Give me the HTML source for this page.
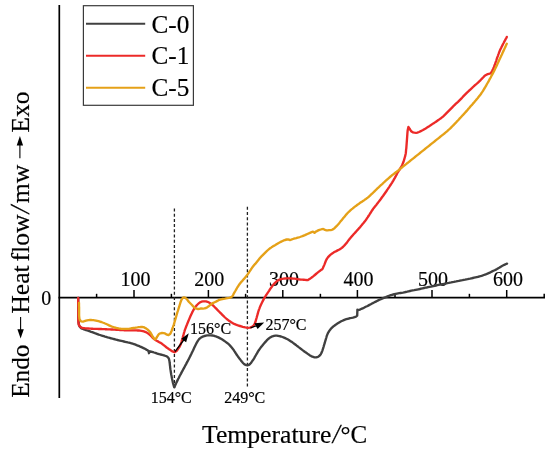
<!DOCTYPE html>
<html>
<head>
<meta charset="utf-8">
<title>DSC curves</title>
<style>
html,body{margin:0;padding:0;background:#fff;}
body{width:550px;height:454px;overflow:hidden;}
svg{display:block;}
text{font-family:"Liberation Serif","Times New Roman",serif;fill:#000;stroke:#000;stroke-width:0.18px;}
.tick{font-size:20px;text-anchor:middle;}
.big{font-size:25.7px;}
.ann{font-size:16px;}
.curve{fill:none;stroke-width:2.35;stroke-linejoin:round;stroke-linecap:round;}
</style>
</head>
<body>
<svg width="550" height="454" viewBox="0 0 550 454">
<rect x="0" y="0" width="550" height="454" fill="#ffffff"/>

<!-- axes -->
<g stroke="#000" fill="none">
<line x1="59.3" y1="5" x2="59.3" y2="398" stroke-width="1.7"/>
<line x1="58.5" y1="297.7" x2="545" y2="297.7" stroke-width="1.8"/>
<g stroke-width="1.5">
<line x1="134" y1="297.7" x2="134" y2="290"/>
<line x1="208.4" y1="297.7" x2="208.4" y2="290"/>
<line x1="282.8" y1="297.7" x2="282.8" y2="290"/>
<line x1="357.4" y1="297.7" x2="357.4" y2="290"/>
<line x1="432" y1="297.7" x2="432" y2="290"/>
<line x1="506.7" y1="297.7" x2="506.7" y2="290"/>
<line x1="96.6" y1="297.7" x2="96.6" y2="293.8"/>
<line x1="171.4" y1="297.7" x2="171.4" y2="293.8"/>
<line x1="245.6" y1="297.7" x2="245.6" y2="293.8"/>
<line x1="320.4" y1="297.7" x2="320.4" y2="293.8"/>
<line x1="395" y1="297.7" x2="395" y2="293.8"/>
<line x1="469.4" y1="297.7" x2="469.4" y2="293.8"/>
<line x1="544.2" y1="297.7" x2="544.2" y2="293.8"/>
</g>
</g>

<!-- tick labels -->
<text class="tick" x="135.6" y="285.8">100</text>
<text class="tick" x="209.3" y="285.8">200</text>
<text class="tick" x="283.9" y="285.8">300</text>
<text class="tick" x="358.6" y="285.8">400</text>
<text class="tick" x="433.1" y="285.8">500</text>
<text class="tick" x="508" y="285.8">600</text>
<text class="tick" x="46.3" y="304.7">0</text>

<!-- dashed guide lines -->
<g stroke="#222" stroke-width="1.3" stroke-dasharray="3 2.2" fill="none">
<line x1="174.4" y1="208.5" x2="174.4" y2="388"/>
<line x1="247.4" y1="206.8" x2="247.4" y2="387.5"/>
</g>

<!-- curves -->
<path class="curve" stroke="#404040" d="M78.2 298.0 L78.2 298.7 L78.2 299.7 L78.2 300.8 L78.2 302.0 L78.2 303.4 L78.3 304.8 L78.3 306.2 L78.3 307.5 L78.3 308.8 L78.3 310.0 L78.3 311.4 L78.3 312.8 L78.3 314.1 L78.3 315.4 L78.3 316.7 L78.3 317.9 L78.4 319.0 L78.4 320.0 L78.5 321.7 L78.6 323.0 L78.8 324.0 L79.0 325.0 L79.6 326.5 L80.5 327.5 L81.4 328.3 L83.0 329.0 L83.9 329.3 L84.9 329.7 L86.0 330.1 L87.3 330.5 L88.6 330.9 L90.0 331.4 L91.1 331.8 L92.3 332.2 L93.5 332.7 L94.8 333.2 L96.1 333.6 L97.4 334.1 L98.7 334.6 L100.0 335.0 L101.2 335.4 L102.5 335.8 L103.8 336.2 L105.0 336.6 L106.2 336.9 L107.5 337.3 L108.8 337.6 L110.0 338.0 L111.2 338.3 L112.5 338.7 L113.8 339.0 L115.0 339.3 L116.2 339.7 L117.5 340.0 L118.8 340.3 L120.0 340.6 L121.3 340.9 L122.6 341.2 L123.9 341.5 L125.2 341.8 L126.5 342.1 L127.8 342.4 L128.9 342.6 L130.0 342.9 L131.5 343.3 L132.7 343.7 L133.8 344.0 L134.9 344.4 L136.0 344.8 L137.2 345.3 L138.5 345.8 L139.7 346.4 L140.9 346.9 L142.0 347.4 L143.5 348.1 L144.9 348.8 L146.0 349.4 L147.5 350.3 L148.5 351.0 L149.0 353.2 L149.6 351.4 L150.4 351.5 L152.0 351.8 L153.0 352.1 L154.1 352.5 L155.4 352.9 L156.7 353.4 L158.0 353.8 L159.3 354.2 L160.7 354.5 L162.0 354.8 L163.3 355.2 L164.4 355.5 L165.8 356.0 L166.8 356.4 L167.7 357.1 L168.4 357.9 L168.9 358.8 L169.3 360.4 L169.5 361.4 L169.6 362.5 L169.8 363.7 L169.9 365.1 L170.1 366.4 L170.2 367.8 L170.4 369.2 L170.6 370.4 L170.8 371.7 L171.0 373.0 L171.2 374.4 L171.5 375.7 L171.7 376.9 L171.9 378.1 L172.1 379.1 L172.5 380.8 L172.8 382.2 L173.1 383.4 L173.4 384.5 L173.9 386.3 L174.3 387.4 L174.7 386.6 L175.2 385.4 L175.8 384.0 L176.5 382.4 L177.0 381.4 L177.5 380.4 L178.0 379.3 L178.6 378.2 L179.2 377.0 L179.8 375.8 L180.4 374.7 L181.0 373.6 L181.6 372.4 L182.3 371.2 L182.9 370.0 L183.5 368.9 L184.2 367.7 L184.8 366.5 L185.4 365.3 L186.1 364.1 L186.7 362.9 L187.4 361.7 L188.0 360.5 L188.6 359.4 L189.2 358.2 L189.8 357.0 L190.4 355.9 L190.9 354.7 L191.5 353.6 L192.0 352.5 L192.5 351.5 L193.0 350.5 L193.6 349.2 L194.1 348.1 L194.6 347.0 L195.1 346.0 L195.6 345.0 L196.2 343.8 L196.8 342.6 L197.4 341.6 L198.0 340.6 L198.9 339.4 L199.9 338.4 L201.0 337.6 L202.1 336.9 L203.4 336.4 L204.6 336.0 L205.9 335.7 L207.2 335.4 L208.5 335.3 L209.7 335.3 L211.0 335.3 L212.3 335.5 L213.4 335.7 L214.6 336.0 L215.9 336.4 L217.0 336.8 L218.4 337.4 L219.7 338.1 L221.0 338.8 L222.3 339.6 L223.7 340.5 L225.0 341.4 L226.0 342.1 L226.9 342.8 L227.9 343.5 L228.9 344.4 L229.7 345.2 L230.5 346.1 L231.3 347.0 L232.1 348.0 L232.9 349.0 L233.6 349.9 L234.2 350.9 L234.9 351.9 L235.6 353.0 L236.2 354.0 L236.9 355.0 L237.7 356.1 L238.5 357.3 L239.4 358.4 L240.2 359.4 L240.9 360.4 L242.0 361.8 L243.0 363.0 L244.0 364.0 L245.1 364.7 L246.3 365.2 L247.4 365.4 L248.7 365.0 L250.0 364.0 L250.7 363.2 L251.5 362.2 L252.2 361.1 L253.0 360.0 L253.8 358.8 L254.5 357.6 L255.2 356.3 L256.0 355.0 L256.8 353.7 L257.5 352.4 L258.2 351.2 L259.0 350.0 L259.8 348.9 L260.5 347.9 L261.2 346.9 L262.0 346.0 L263.0 344.7 L264.0 343.5 L265.0 342.4 L265.9 341.4 L266.7 340.4 L267.5 339.6 L268.8 338.5 L270.0 337.6 L271.2 336.9 L272.5 336.3 L274.0 335.9 L275.5 335.6 L276.8 335.6 L278.0 335.8 L279.5 336.1 L281.0 336.5 L282.5 337.0 L284.0 337.6 L285.2 338.1 L286.4 338.7 L287.6 339.3 L288.8 340.0 L289.9 340.7 L291.0 341.4 L292.1 342.1 L293.1 342.9 L294.2 343.7 L295.3 344.5 L296.4 345.4 L297.5 346.2 L298.6 347.1 L299.7 347.9 L300.8 348.8 L301.9 349.6 L302.9 350.4 L304.0 351.2 L305.1 352.0 L306.3 352.8 L307.4 353.6 L308.8 354.6 L310.0 355.4 L311.2 356.1 L312.4 356.7 L314.5 357.3 L316.2 357.4 L318.0 356.9 L319.5 355.8 L320.3 354.9 L321.0 353.8 L321.7 352.4 L322.3 350.8 L322.7 349.6 L323.2 348.2 L323.6 346.8 L323.9 345.6 L324.3 344.4 L324.7 343.2 L325.0 342.0 L325.4 340.6 L325.8 339.3 L326.2 338.0 L326.7 336.2 L327.3 334.6 L327.9 333.2 L328.6 332.0 L329.3 330.9 L330.0 329.9 L330.9 328.8 L332.0 327.6 L332.9 326.8 L333.8 326.1 L335.0 325.2 L336.1 324.4 L337.4 323.6 L338.7 322.8 L340.0 322.0 L341.2 321.3 L342.5 320.7 L343.8 320.1 L345.0 319.6 L346.3 319.2 L347.6 318.8 L348.9 318.5 L350.0 318.2 L351.6 317.9 L353.0 317.6 L354.6 317.1 L356.0 316.6 L357.2 315.6 L357.4 309.6 L358.0 310.2 L359.0 309.9 L360.5 309.3 L362.0 308.6 L363.2 308.1 L364.4 307.5 L365.7 306.8 L367.0 306.2 L368.2 305.6 L369.5 304.9 L370.8 304.3 L372.0 303.6 L373.2 302.9 L374.5 302.3 L375.8 301.6 L377.0 301.0 L378.2 300.4 L379.5 299.8 L380.8 299.2 L382.0 298.6 L383.2 298.1 L384.5 297.6 L385.8 297.1 L387.0 296.6 L388.2 296.1 L389.5 295.7 L390.8 295.2 L392.0 294.8 L393.2 294.5 L394.4 294.2 L395.7 293.9 L397.0 293.6 L398.1 293.4 L399.3 293.2 L400.5 293.0 L401.7 292.8 L403.0 292.6 L404.3 292.3 L405.7 292.0 L407.2 291.7 L408.6 291.3 L410.0 291.0 L411.4 290.7 L412.8 290.4 L414.2 290.2 L415.6 289.9 L417.0 289.6 L418.4 289.3 L419.8 289.0 L421.2 288.6 L422.6 288.3 L424.0 288.0 L425.4 287.7 L426.7 287.5 L428.1 287.2 L429.5 286.9 L431.0 286.6 L432.2 286.3 L433.4 286.1 L434.7 285.8 L436.0 285.5 L437.3 285.2 L438.6 284.9 L440.0 284.6 L441.2 284.4 L442.4 284.1 L443.7 283.9 L444.9 283.6 L446.2 283.4 L447.5 283.1 L448.7 282.9 L450.0 282.6 L451.2 282.4 L452.5 282.1 L453.8 281.9 L455.0 281.6 L456.2 281.4 L457.5 281.1 L458.8 280.9 L460.0 280.6 L461.3 280.3 L462.5 280.1 L463.8 279.8 L465.1 279.6 L466.4 279.3 L467.6 279.1 L468.8 278.8 L470.0 278.6 L471.5 278.3 L472.9 278.0 L474.2 277.7 L475.5 277.4 L476.7 277.1 L478.0 276.8 L479.2 276.5 L480.4 276.1 L481.6 275.8 L482.8 275.4 L483.9 275.0 L485.0 274.6 L486.3 274.1 L487.5 273.6 L488.6 273.1 L489.8 272.6 L491.0 272.0 L492.2 271.4 L493.4 270.8 L494.7 270.2 L495.9 269.6 L497.0 269.0 L498.3 268.2 L499.6 267.5 L500.8 266.7 L502.0 266.0 L503.4 265.3 L504.8 264.6 L506.1 264.0 L507.0 263.6"/>
<path class="curve" stroke="#ec2a28" d="M78.2 298.0 L78.2 298.7 L78.2 299.6 L78.2 300.7 L78.2 301.9 L78.2 303.2 L78.3 304.6 L78.3 306.0 L78.3 307.4 L78.3 308.7 L78.3 310.0 L78.3 311.2 L78.3 312.5 L78.3 313.9 L78.3 315.2 L78.3 316.5 L78.3 317.8 L78.3 319.0 L78.3 320.1 L78.4 321.1 L78.4 322.0 L78.7 324.4 L79.2 325.5 L80.5 327.0 L81.4 327.6 L83.0 328.0 L84.1 328.1 L85.3 328.3 L86.8 328.4 L88.3 328.5 L90.0 328.6 L91.1 328.7 L92.3 328.7 L93.5 328.8 L94.8 328.8 L96.1 328.9 L97.4 328.9 L98.7 329.0 L100.0 329.0 L101.2 329.0 L102.5 329.1 L103.8 329.1 L105.0 329.2 L106.2 329.2 L107.5 329.3 L108.8 329.3 L110.0 329.4 L111.2 329.5 L112.5 329.5 L113.8 329.6 L115.0 329.7 L116.2 329.8 L117.5 329.9 L118.8 329.9 L120.0 330.0 L121.2 330.1 L122.5 330.1 L123.8 330.2 L125.0 330.2 L126.2 330.3 L127.5 330.3 L128.8 330.4 L130.0 330.4 L131.3 330.4 L132.6 330.4 L133.9 330.4 L135.2 330.4 L136.5 330.4 L137.8 330.5 L138.9 330.5 L140.0 330.6 L141.5 330.8 L142.8 331.1 L143.9 331.4 L145.0 331.8 L146.0 332.2 L147.1 332.8 L148.1 333.4 L149.0 334.2 L150.0 335.0 L151.0 336.0 L152.0 337.0 L153.0 338.1 L154.0 339.0 L155.3 339.9 L156.7 340.7 L158.0 341.4 L159.3 342.2 L160.7 342.9 L162.0 343.8 L163.0 344.6 L164.0 345.4 L165.0 346.2 L166.0 347.0 L167.0 347.8 L168.1 348.5 L169.1 349.2 L170.0 349.8 L171.4 350.7 L172.5 351.4 L174.5 352.3 L176.5 351.0 L177.4 349.9 L178.3 348.5 L179.0 347.5 L179.7 346.5 L180.4 345.0 L180.8 344.1 L181.1 343.0 L181.5 341.8 L181.8 340.6 L182.2 339.3 L182.6 338.0 L182.9 336.9 L183.3 335.7 L183.6 334.5 L183.9 333.2 L184.3 332.0 L184.6 330.8 L185.0 329.6 L185.5 328.3 L186.0 327.0 L186.5 325.7 L187.0 324.5 L187.5 323.2 L188.0 322.0 L188.5 320.8 L189.0 319.6 L189.5 318.4 L190.0 317.2 L190.5 316.1 L191.0 315.0 L191.6 313.7 L192.2 312.4 L192.8 311.2 L193.4 310.1 L194.0 309.0 L194.8 307.8 L195.5 306.8 L196.2 305.9 L197.0 305.0 L198.0 304.0 L199.0 303.1 L200.0 302.4 L201.5 301.7 L203.0 301.4 L204.5 301.3 L206.0 301.4 L207.5 301.8 L209.0 302.5 L210.1 303.2 L211.3 304.0 L212.4 304.9 L213.5 305.9 L214.6 307.0 L215.7 308.1 L216.8 309.2 L217.9 310.4 L219.0 311.5 L220.1 312.6 L221.2 313.7 L222.3 314.8 L223.4 315.9 L224.5 317.0 L225.6 318.0 L226.7 319.0 L227.9 319.9 L229.0 320.8 L230.2 321.6 L231.3 322.3 L232.5 323.0 L233.6 323.6 L234.8 324.2 L236.0 324.7 L237.3 325.2 L238.6 325.6 L240.0 326.0 L241.3 326.4 L242.7 326.8 L244.0 327.1 L245.3 327.4 L246.6 327.6 L247.7 327.8 L250.0 327.7 L252.0 326.9 L252.9 326.2 L253.8 325.2 L254.5 324.0 L255.2 322.6 L255.6 321.4 L255.9 320.1 L256.3 318.8 L256.7 317.5 L257.0 316.3 L257.4 315.0 L257.8 313.7 L258.1 312.3 L258.5 311.0 L258.9 309.8 L259.4 308.6 L259.8 307.4 L260.5 305.8 L261.2 304.2 L261.8 303.0 L262.4 301.8 L263.0 300.6 L263.6 299.4 L264.3 298.2 L265.0 297.0 L265.6 296.0 L266.3 294.9 L267.2 293.6 L267.8 292.7 L268.5 291.7 L269.2 290.6 L269.9 289.4 L270.7 288.3 L271.4 287.3 L272.2 286.2 L273.1 285.1 L273.9 284.1 L274.8 283.1 L275.6 282.3 L276.6 281.4 L277.5 280.7 L278.5 280.1 L279.6 279.6 L280.9 279.2 L282.3 278.9 L283.7 278.7 L285.1 278.5 L286.5 278.4 L287.8 278.4 L289.1 278.4 L290.5 278.4 L291.9 278.5 L293.3 278.6 L294.6 278.7 L296.0 278.9 L297.4 279.1 L298.8 279.3 L300.2 279.5 L301.4 279.6 L302.8 279.7 L303.9 279.7 L305.0 279.8 L306.6 280.0 L307.9 280.1 L309.9 278.8 L310.9 278.1 L312.0 277.3 L313.2 276.4 L314.2 275.5 L315.4 274.5 L316.6 273.5 L317.6 272.6 L318.9 271.6 L320.0 270.8 L320.9 270.1 L322.3 269.2 L322.8 268.3 L323.3 267.1 L323.9 265.8 L324.4 264.6 L324.9 263.3 L325.4 262.0 L325.9 260.8 L326.5 259.5 L327.2 258.4 L327.9 257.4 L328.8 256.4 L329.8 255.4 L330.9 254.4 L332.2 253.5 L333.5 252.6 L334.9 251.8 L336.3 251.1 L337.6 250.4 L338.9 249.8 L339.9 249.2 L340.9 248.6 L341.9 247.8 L342.8 247.0 L343.9 246.0 L344.9 244.9 L345.9 243.8 L346.7 242.9 L347.4 241.9 L348.1 240.9 L348.8 239.9 L349.6 238.9 L350.4 238.0 L351.2 237.0 L352.0 236.1 L352.8 235.2 L353.6 234.3 L354.6 233.2 L355.6 232.1 L356.6 231.0 L357.6 229.9 L358.4 229.0 L359.2 228.1 L360.0 227.2 L360.8 226.2 L361.6 225.3 L362.4 224.3 L363.3 223.3 L364.1 222.3 L364.9 221.3 L365.6 220.3 L366.4 219.2 L367.1 218.1 L367.8 217.1 L368.5 216.0 L369.3 214.8 L370.1 213.5 L370.9 212.3 L371.6 211.2 L372.4 210.0 L373.1 208.9 L373.8 208.0 L374.6 207.0 L375.8 205.6 L376.5 204.7 L377.2 203.7 L378.1 202.6 L379.0 201.4 L379.9 200.2 L380.8 199.0 L381.5 198.0 L382.2 197.0 L383.0 196.0 L383.7 195.0 L384.4 194.0 L385.1 193.0 L385.8 192.0 L386.5 191.0 L387.2 189.9 L387.9 188.9 L388.6 187.8 L389.3 186.8 L389.9 185.9 L390.5 185.0 L391.4 183.7 L392.1 182.6 L392.7 181.5 L393.3 180.6 L394.1 179.2 L395.0 177.6 L395.5 176.6 L396.2 175.4 L396.8 174.2 L397.4 173.0 L398.0 172.0 L398.7 170.9 L399.3 170.1 L400.0 169.0 L400.5 168.0 L401.2 166.9 L401.8 165.7 L402.4 164.4 L403.0 163.0 L403.5 161.8 L403.9 160.5 L404.3 159.1 L404.7 157.7 L405.1 156.4 L405.4 155.0 L405.7 153.7 L405.9 152.3 L406.0 151.0 L406.1 149.7 L406.3 148.3 L406.4 147.0 L406.5 145.7 L406.6 144.3 L406.7 143.0 L406.8 141.7 L406.9 140.3 L407.0 139.0 L407.1 137.6 L407.2 136.2 L407.3 134.8 L407.4 133.4 L407.5 132.1 L407.6 131.0 L407.9 129.2 L408.2 127.9 L408.4 127.0 L409.6 128.6 L410.3 129.8 L411.0 131.0 L411.9 131.8 L413.0 132.4 L414.4 132.7 L416.0 132.8 L417.4 132.6 L419.0 132.0 L420.3 131.4 L421.6 130.7 L423.0 130.0 L424.3 129.2 L425.7 128.4 L427.0 127.6 L428.3 126.7 L429.7 125.9 L431.0 125.0 L432.3 124.1 L433.7 123.3 L435.0 122.4 L436.0 121.7 L437.0 121.0 L438.0 120.3 L439.0 119.6 L440.0 118.9 L441.0 118.2 L442.0 117.4 L443.0 116.6 L444.0 115.7 L445.0 114.7 L446.0 113.6 L447.0 112.6 L448.0 111.6 L449.0 110.6 L450.0 109.6 L451.0 108.6 L452.0 107.6 L452.9 106.6 L453.9 105.7 L455.0 104.6 L455.9 103.7 L456.9 102.8 L458.0 101.8 L459.0 100.8 L460.0 99.8 L461.0 98.8 L462.0 97.8 L463.0 96.7 L464.0 95.7 L465.0 94.7 L466.0 93.7 L467.0 92.7 L468.1 91.7 L469.1 90.7 L470.0 89.8 L471.1 88.8 L472.1 87.9 L473.0 87.0 L474.0 86.1 L475.0 85.2 L476.0 84.4 L477.0 83.5 L478.0 82.6 L479.0 81.6 L480.1 80.6 L481.1 79.5 L482.0 78.6 L483.1 77.5 L484.1 76.4 L485.0 75.6 L487.0 74.4 L488.6 73.9 L490.0 73.6 L490.9 73.0 L491.5 72.0 L492.3 70.6 L493.1 69.0 L493.5 68.0 L494.0 66.9 L494.4 65.7 L494.9 64.5 L495.3 63.3 L495.7 62.1 L496.2 60.8 L496.6 59.5 L497.0 58.2 L497.5 56.9 L497.9 55.8 L498.3 54.6 L498.8 53.4 L499.2 52.2 L499.7 51.0 L500.2 49.8 L500.7 48.7 L501.3 47.6 L501.8 46.5 L502.4 45.4 L502.9 44.3 L503.5 43.2 L504.2 41.8 L505.0 40.4 L505.7 39.0 L506.4 37.8 L506.8 36.9"/>
<path class="curve" stroke="#e5a118" d="M79.0 302.8 L79.0 303.6 L79.0 304.7 L79.0 306.0 L79.1 307.4 L79.1 308.8 L79.1 310.0 L79.1 311.4 L79.1 312.8 L79.1 314.2 L79.1 315.4 L79.2 316.5 L79.4 318.5 L79.8 319.8 L81.0 321.3 L83.0 321.6 L84.4 321.2 L86.0 320.7 L87.2 320.4 L88.5 320.1 L90.0 320.0 L91.0 320.0 L92.2 320.1 L93.4 320.2 L94.6 320.3 L96.0 320.6 L97.2 320.9 L98.5 321.2 L99.9 321.6 L101.3 322.0 L102.6 322.5 L104.0 323.0 L105.1 323.5 L106.3 324.0 L107.4 324.5 L108.6 325.1 L109.7 325.7 L110.9 326.2 L112.0 326.6 L113.3 327.0 L114.7 327.5 L116.0 327.8 L117.3 328.1 L118.7 328.4 L120.0 328.6 L121.3 328.8 L122.7 328.9 L124.0 328.9 L125.3 328.9 L126.7 328.9 L128.0 328.8 L129.4 328.7 L130.7 328.5 L132.1 328.2 L133.5 328.0 L134.8 327.8 L136.0 327.6 L137.4 327.4 L138.6 327.2 L139.8 327.1 L141.0 327.0 L142.0 327.0 L143.5 327.2 L144.7 327.7 L146.0 328.4 L147.0 329.1 L148.1 330.0 L149.1 330.9 L150.0 332.0 L150.8 333.2 L151.6 334.6 L152.3 335.9 L153.0 337.0 L154.1 338.7 L155.0 339.4 L156.0 338.5 L157.0 337.0 L157.6 336.0 L158.3 334.9 L159.0 334.0 L160.4 333.3 L162.0 333.0 L163.6 333.1 L165.0 333.4 L167.0 334.7 L168.5 335.1 L170.0 334.0 L170.6 333.2 L171.2 331.8 L171.6 330.9 L172.0 329.7 L172.4 328.5 L172.9 327.2 L173.3 326.0 L173.8 324.6 L174.2 323.2 L174.6 321.9 L175.0 320.5 L175.4 319.1 L175.8 317.8 L176.2 316.4 L176.6 315.0 L177.0 313.6 L177.4 312.2 L177.9 310.9 L178.3 309.5 L178.7 308.1 L179.2 306.7 L179.6 305.3 L180.0 304.0 L180.5 302.4 L181.0 300.9 L181.6 299.6 L182.5 298.2 L183.5 297.4 L184.7 297.5 L186.0 298.4 L187.0 299.4 L188.0 300.7 L189.0 302.0 L190.0 303.0 L191.0 304.0 L192.0 305.0 L193.0 306.1 L194.0 307.1 L195.0 308.0 L196.5 308.7 L198.0 309.0 L199.6 308.8 L201.0 308.4 L203.0 308.6 L204.4 308.4 L206.0 308.0 L207.0 307.5 L208.0 306.7 L209.0 306.0 L210.0 305.2 L210.9 304.4 L212.0 303.6 L213.3 302.9 L214.6 302.3 L216.0 301.6 L217.3 300.9 L218.5 300.2 L220.0 299.6 L221.1 299.3 L222.4 299.0 L223.6 298.8 L224.9 298.6 L226.0 298.4 L227.5 298.1 L228.9 297.9 L230.0 297.6 L231.3 297.1 L232.3 296.4 L233.1 295.1 L233.8 293.6 L234.5 292.3 L235.3 291.0 L236.1 289.6 L237.0 288.0 L237.6 287.0 L238.4 285.8 L239.1 284.7 L240.0 283.5 L240.7 282.6 L241.5 281.7 L242.4 280.8 L243.2 279.8 L244.0 278.9 L244.8 277.9 L245.6 277.0 L246.4 276.0 L247.2 275.0 L248.0 273.9 L248.7 272.9 L249.3 271.9 L250.0 270.9 L250.7 269.9 L251.3 268.9 L252.0 267.9 L252.8 266.8 L253.6 265.8 L254.4 264.8 L255.2 263.9 L256.0 262.9 L256.8 261.9 L257.6 260.9 L258.4 259.9 L259.2 258.9 L260.0 258.0 L261.0 256.9 L262.0 255.8 L263.0 254.8 L264.0 253.8 L265.0 252.8 L266.0 251.8 L267.0 250.9 L268.0 250.0 L269.0 249.1 L270.1 248.3 L271.1 247.6 L272.0 246.9 L273.4 246.1 L275.0 245.3 L276.1 244.6 L277.4 243.8 L278.7 243.0 L280.0 242.3 L281.3 241.6 L282.6 241.0 L283.9 240.4 L285.0 240.0 L286.7 239.5 L288.0 239.4 L290.0 240.0 L291.2 239.7 L293.0 239.0 L293.9 238.7 L295.1 238.4 L296.3 238.1 L297.6 237.7 L298.8 237.4 L300.0 237.0 L301.3 236.5 L302.5 236.1 L303.7 235.6 L304.9 235.1 L306.0 234.6 L307.4 234.0 L308.8 233.4 L310.0 232.8 L311.0 232.4 L313.0 231.6 L314.5 232.8 L316.0 231.5 L316.9 231.1 L318.2 230.4 L319.5 229.9 L320.8 229.5 L322.1 229.1 L323.2 229.0 L325.0 229.9 L326.5 230.4 L327.7 230.4 L329.0 230.2 L330.5 230.1 L332.0 229.8 L333.3 229.1 L334.5 228.2 L335.5 227.2 L336.5 226.2 L337.4 225.2 L338.5 224.0 L339.4 222.9 L340.4 221.6 L341.4 220.4 L342.4 219.2 L343.3 218.1 L344.3 216.9 L345.3 215.7 L346.2 214.6 L347.2 213.5 L348.1 212.5 L349.1 211.6 L350.1 210.6 L351.2 209.6 L352.5 208.6 L353.7 207.6 L354.9 206.6 L356.2 205.7 L357.4 204.8 L358.6 204.0 L359.8 203.1 L361.0 202.3 L361.9 201.7 L362.9 201.0 L363.9 200.4 L365.0 199.6 L365.9 199.0 L366.7 198.4 L367.6 197.7 L368.7 196.8 L370.0 195.6 L370.7 194.9 L371.5 194.2 L372.4 193.4 L373.3 192.5 L374.2 191.6 L375.2 190.6 L376.2 189.7 L377.1 188.7 L378.1 187.8 L379.1 186.9 L380.0 186.0 L380.9 185.1 L381.9 184.3 L382.9 183.4 L383.8 182.5 L384.8 181.6 L385.8 180.7 L386.7 179.9 L387.6 179.1 L388.5 178.3 L389.3 177.6 L390.0 177.0 L391.3 175.9 L392.4 175.0 L393.2 174.4 L394.1 173.7 L395.0 173.0 L395.9 172.3 L396.8 171.6 L397.6 170.9 L398.7 170.1 L400.0 169.0 L400.8 168.4 L401.7 167.7 L402.6 166.9 L403.6 166.1 L404.7 165.2 L405.8 164.4 L406.8 163.5 L407.9 162.7 L409.0 161.8 L410.0 161.0 L411.0 160.2 L412.0 159.4 L413.0 158.6 L414.0 157.8 L415.0 157.0 L416.0 156.2 L417.0 155.4 L418.0 154.6 L419.0 153.8 L420.0 153.0 L421.0 152.2 L422.0 151.4 L423.0 150.6 L424.0 149.8 L425.0 149.0 L426.0 148.2 L427.0 147.4 L428.0 146.6 L429.0 145.8 L430.0 145.0 L431.0 144.2 L432.0 143.4 L433.0 142.6 L434.0 141.8 L435.0 141.0 L436.0 140.2 L437.0 139.4 L438.0 138.6 L439.0 137.8 L440.0 137.0 L441.0 136.2 L442.0 135.4 L443.0 134.6 L444.0 133.8 L445.0 133.0 L446.0 132.1 L447.0 131.3 L448.0 130.4 L449.0 129.5 L450.0 128.6 L450.8 127.8 L451.7 126.9 L452.6 126.0 L453.5 125.1 L454.4 124.2 L455.3 123.2 L456.2 122.3 L457.0 121.4 L457.9 120.5 L458.6 119.7 L459.3 118.9 L460.0 118.2 L461.1 117.0 L462.0 116.0 L462.8 115.2 L463.5 114.4 L464.2 113.7 L465.0 112.8 L465.8 111.9 L466.7 110.9 L467.5 109.9 L468.3 108.9 L469.2 108.0 L470.0 107.0 L470.8 106.0 L471.7 105.1 L472.5 104.2 L473.3 103.2 L474.2 102.3 L475.0 101.3 L475.9 100.3 L476.7 99.2 L477.6 98.2 L478.5 97.1 L479.3 96.1 L480.0 95.2 L480.9 94.0 L481.6 92.9 L482.3 91.9 L483.0 90.8 L483.7 89.6 L484.4 88.5 L485.2 87.2 L486.0 85.8 L486.6 84.7 L487.3 83.5 L488.1 82.2 L488.8 80.9 L489.4 79.7 L490.0 78.7 L490.8 77.2 L491.4 76.0 L492.0 74.9 L492.7 73.6 L493.6 71.9 L494.1 71.0 L494.6 70.0 L495.1 68.8 L495.7 67.6 L496.3 66.4 L496.9 65.2 L497.4 64.0 L498.0 62.8 L498.5 61.6 L499.1 60.4 L499.6 59.2 L500.2 58.0 L500.8 56.8 L501.3 55.6 L501.9 54.5 L502.4 53.3 L502.9 52.1 L503.5 50.9 L504.1 49.6 L504.7 48.2 L505.4 46.9 L505.9 45.6 L506.4 44.5 L506.8 43.7"/>

<!-- legend -->
<rect x="83.4" y="5.7" width="110" height="99.6" fill="#fff" stroke="#3a3a3a" stroke-width="1.2"/>
<line x1="86" y1="23.7" x2="145.2" y2="23.7" stroke="#404040" stroke-width="2"/>
<line x1="86" y1="55.7" x2="145.2" y2="55.7" stroke="#ec2a28" stroke-width="2"/>
<line x1="86" y1="87.7" x2="145.2" y2="87.7" stroke="#e5a118" stroke-width="2"/>
<text class="big" x="151.5" y="32.6" style="font-size:25.2px">C-0</text>
<text class="big" x="151.5" y="64.2" style="font-size:25.2px">C-1</text>
<text class="big" x="151.5" y="96.2" style="font-size:25.2px">C-5</text>

<!-- annotations -->
<g stroke="#000" stroke-width="1.3" fill="#000">
<line x1="175" y1="351.6" x2="184.5" y2="339"/>
<polygon points="188.8,333.3 186.1,342.3 181.3,338.7" stroke="none"/>
<line x1="250.5" y1="327.8" x2="257" y2="325.6"/>
<polygon points="264.2,322.4 257.6,329 254.3,323.2" stroke="none"/>
</g>
<text class="ann" x="190" y="333.5">156°C</text>
<text class="ann" x="265.4" y="330">257°C</text>
<text class="ann" x="150.7" y="403.4">154°C</text>
<text class="ann" x="224.2" y="403.4">249°C</text>

<!-- x title -->
<text class="big" x="202.0" y="443.2">Temperature</text>
<text class="big" transform="translate(331.6,443.4) skewX(-8.4)" style="font-size:27.5px">/</text>
<text class="big" x="340.4" y="443.2" style="font-size:25px">°C</text>

<!-- y title -->
<g transform="translate(28.6,0) rotate(-90)">
<text class="big" x="-397.8" y="0" style="font-size:25.2px">Endo</text>
<text class="big" x="-313.8" y="0" word-spacing="-2.6">Heat flow</text>
<text class="big" transform="translate(-214.6,0.2) skewX(-9.5)" style="font-size:27.5px">/</text>
<text class="big" x="-203.3" y="0">mw</text>
<text class="big" x="-132.7" y="0">Exo</text>
</g>
<!-- y title arrows -->
<g stroke="#000" stroke-width="1.1" fill="#000">
<line x1="20.6" y1="317" x2="20.6" y2="331"/>
<polygon points="20.6,338.4 17.4,329.2 23.8,329.2" stroke="none"/>
<line x1="19.9" y1="158.2" x2="19.9" y2="144"/>
<polygon points="19.9,136 16.7,145.6 23.1,145.6" stroke="none"/>
</g>
</svg>
</body>
</html>
